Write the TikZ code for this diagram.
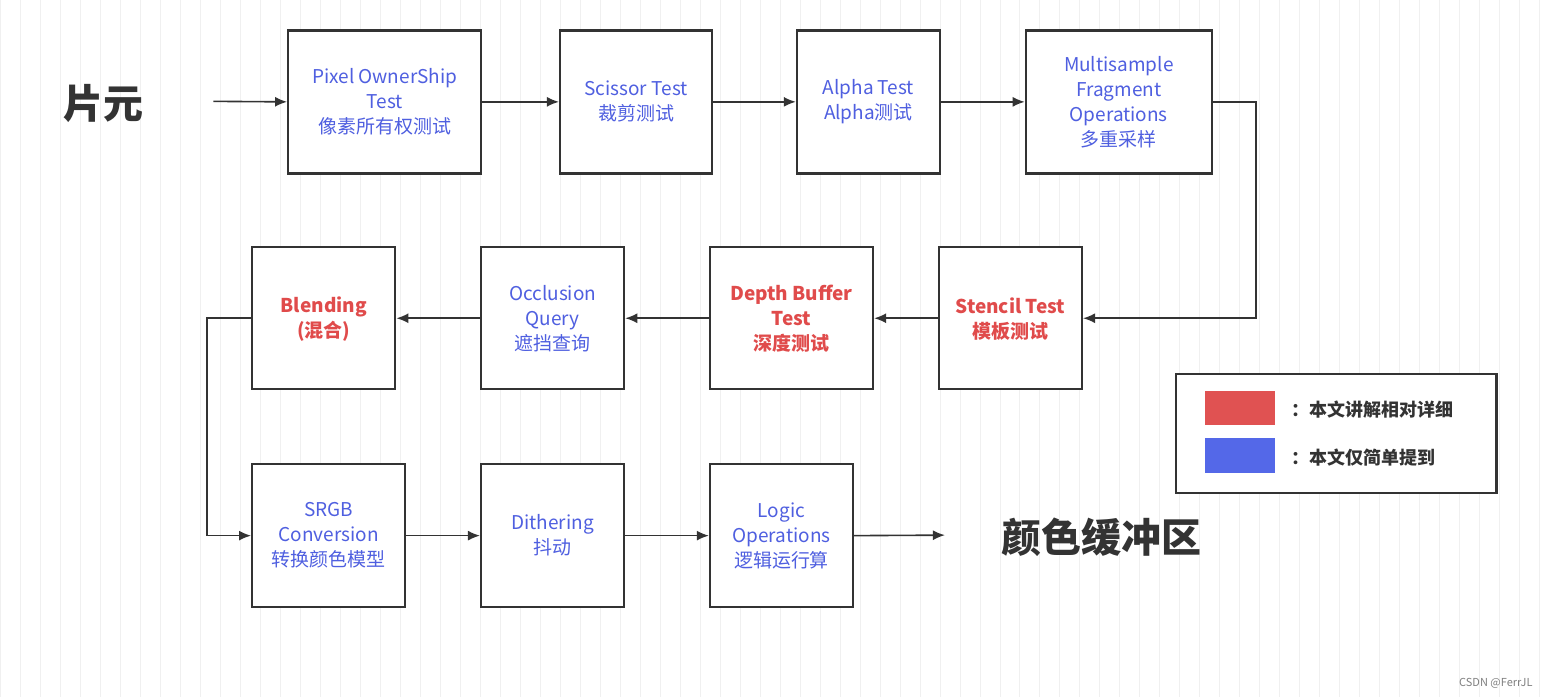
\documentclass[tikz,border=0pt]{standalone}
\usepackage{fontspec}
\setmainfont{Noto Sans CJK SC}
\usetikzlibrary{arrows.meta}
\definecolor{tb}{HTML}{4F5FE0}
\definecolor{tr}{HTML}{E04B4B}
\definecolor{lr}{HTML}{E05252}
\definecolor{lb}{HTML}{5468E8}
\definecolor{dk}{HTML}{333333}
\begin{document}
\begin{tikzpicture}[x=0.5pt,y=-0.5pt,
 box/.style={draw=dk,line width=1.2pt,fill=white,align=center,font=\fontsize{9.5}{12.5}\selectfont,text=tb,inner sep=0pt},
 red/.style={text=tr,font=\fontsize{9.5}{12.5}\selectfont\bfseries},
 arr/.style={draw=dk,line width=0.8pt,-{Latex[length=6pt,width=5pt]}}]
\fill[white] (0,0) rectangle (1550,697);
\draw[gray!12,line width=0.4pt] (0,0) grid[step=20] (1550,697);
\useasboundingbox (0,0) rectangle (1550,697);
\newcommand\bx[6]{\node[box,minimum width=#4*0.5pt,minimum height=#5*0.5pt,#6] (#1) at (#2,#3) {};}
\bx{p}{384.5}{101.5}{193}{143}{}
\bx{s}{636}{101.5}{152}{143}{}
\bx{a}{868.5}{101.5}{143}{143}{}
\bx{m}{1119}{101.5}{186}{143}{}
\bx{st}{1010.5}{318}{143}{142}{}
\bx{d}{791.5}{318}{163}{142}{}
\bx{o}{552.5}{318}{143}{142}{}
\bx{b}{323.5}{318}{143}{142}{}
\bx{sr}{328.5}{535.5}{153}{143}{}
\bx{di}{552.5}{535.5}{143}{143}{}
\bx{l}{781.5}{535.5}{143}{143}{}
\tikzset{t/.style={align=center,font=\fontsize{9.5}{12.5}\selectfont,text=tb}}
\node[t] at (p) {Pixel OwnerShip\\Test\\像素所有权测试};
\node[t] at (s) {Scissor Test\\裁剪测试};
\node[t] at (a) {Alpha Test\\Alpha测试};
\node[t] at (m) {Multisample\\Fragment\\Operations\\多重采样};
\node[t,red] at ([yshift=-0.5pt]st) {Stencil Test\\模板测试};
\node[t,red] at (d) {Depth Buffer\\Test\\深度测试};
\node[t] at (o) {Occlusion\\Query\\遮挡查询};
\node[t,red] at ([yshift=-0.5pt]b) {Blending\\(混合)};
\node[t] at (sr) {SRGB\\Conversion\\转换颜色模型};
\node[t] at (di) {Dithering\\抖动};
\node[t] at (l) {Logic\\Operations\\逻辑运行算};
\node[font=\fontsize{20}{24}\selectfont\bfseries,text=dk] (pe) at (103,103) {片元};
\node[font=\fontsize{20}{24}\selectfont\bfseries,text=dk] (cb) at (1102,537) {颜色缓冲区};
\coordinate (c0) at (213,101);
\coordinate (c1) at (945,535);
\draw[arr] (c0) -- (p.west);
\draw[arr] (p) -- (s);
\draw[arr] (s) -- (a);
\draw[arr] (a) -- (m);
\draw[arr] (m.east) -- (1256,101.5) |- (st.east);
\draw[arr] (st) -- (d);
\draw[arr] (d) -- (o);
\draw[arr] (o) -- (b);
\draw[arr] (b.west) -- (207,318) |- (sr.west);
\draw[arr] (sr) -- (di);
\draw[arr] (di) -- (l);
\draw[arr] (l.east) -- (c1);
\node[draw=dk,line width=1.2pt,fill=white,minimum width=160.5pt,minimum height=59.5pt,inner sep=0pt] (lg) at (1336.5,433.5) {};
\fill[lr] (1205,391) rectangle (1275,425);
\fill[lb] (1205,438) rectangle (1275,473);
\node[anchor=west,font=\fontsize{9}{11}\selectfont\bfseries,text=dk] (l1) at (1285,409) {：本文讲解相对详细};
\node[anchor=west,font=\fontsize{9}{11}\selectfont\bfseries,text=dk] (l2) at (1285,457) {：本文仅简单提到};
\node[anchor=east,font=\fontsize{5.5}{7}\selectfont,text=gray] (wm) at (1540,683) {CSDN @FerrJL};
\end{tikzpicture}
\end{document}
